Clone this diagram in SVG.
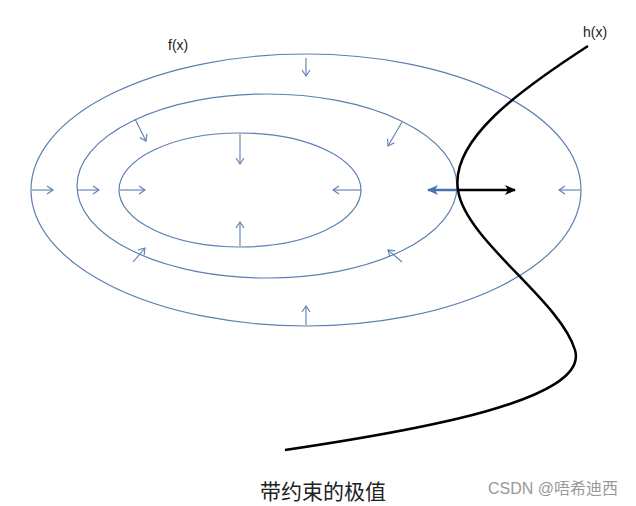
<svg xmlns="http://www.w3.org/2000/svg" width="636" height="506" viewBox="0 0 636 506">
<style>
.e{fill:none;stroke:#5b7fb0;stroke-width:1.2}
.a{stroke:#5b7fb0;stroke-width:1.1;fill:none;marker-end:url(#ah)}
.t{font-family:"Liberation Sans","Noto Sans CJK SC",sans-serif;fill:#222}
</style>
<defs>
<marker id="ah" markerWidth="10" markerHeight="10" refX="8" refY="5" orient="auto" markerUnits="userSpaceOnUse"><path d="M2,1 L8,5 L2,9" fill="none" stroke="#5b7fb0" stroke-width="1.1"/></marker>
<marker id="ab" markerWidth="14" markerHeight="12" refX="10" refY="6" orient="auto" markerUnits="userSpaceOnUse"><path d="M0,1 L11,6 L0,11 L3,6 Z" fill="#4a73ad"/></marker>
<marker id="ak" markerWidth="14" markerHeight="12" refX="10" refY="6" orient="auto" markerUnits="userSpaceOnUse"><path d="M0,1 L11,6 L0,11 L3,6 Z" fill="#000"/></marker>
</defs>
<rect width="636" height="506" fill="#fff"/>
<g id="outer"><ellipse class="e" cx="306" cy="190" rx="275" ry="136"/></g>
<g id="middle"><ellipse class="e" cx="267" cy="186" rx="190" ry="92"/></g>
<g id="inner"><ellipse class="e" cx="240" cy="190" rx="121" ry="57"/></g>
<g id="connectors">
<line class="a" x1="306" y1="58" x2="306" y2="76"/>
<line class="a" x1="32" y1="190" x2="53" y2="190"/>
<line class="a" x1="580" y1="190" x2="559" y2="190"/>
<line class="a" x1="306" y1="325" x2="306" y2="306"/>
<line class="a" x1="78" y1="190" x2="99" y2="190"/>
<line class="a" x1="135" y1="119" x2="146" y2="141"/>
<line class="a" x1="402" y1="122" x2="388" y2="146"/>
<line class="a" x1="133" y1="262" x2="145" y2="248"/>
<line class="a" x1="402" y1="262" x2="388" y2="250"/>
<line class="a" x1="240" y1="134" x2="240" y2="164"/>
<line class="a" x1="120" y1="190" x2="145" y2="190"/>
<line class="a" x1="361" y1="190" x2="333" y2="190"/>
<line class="a" x1="240" y1="246" x2="240" y2="222"/>
<line x1="457" y1="190" x2="428" y2="190" stroke="#4a73ad" stroke-width="2.5" marker-end="url(#ab)"/>
<line x1="457" y1="190" x2="515" y2="190" stroke="#000" stroke-width="2.5" marker-end="url(#ak)"/>
<path d="M588,46 C520,90 450,140 458,190 C465,240 560,300 575,350 C590,400 420,430 285,450" fill="none" stroke="#000" stroke-width="2.5"/>
</g>
<text class="t" x="168" y="50" font-size="14">f(x)</text>
<text class="t" x="583" y="37" font-size="14">h(x)</text>
<text class="t" x="323" y="499" font-size="21" text-anchor="middle">带约束的极值</text>
<text class="t" x="553" y="494" font-size="16" text-anchor="middle" style="fill:#999">CSDN @唔希迪西</text>
</svg>
